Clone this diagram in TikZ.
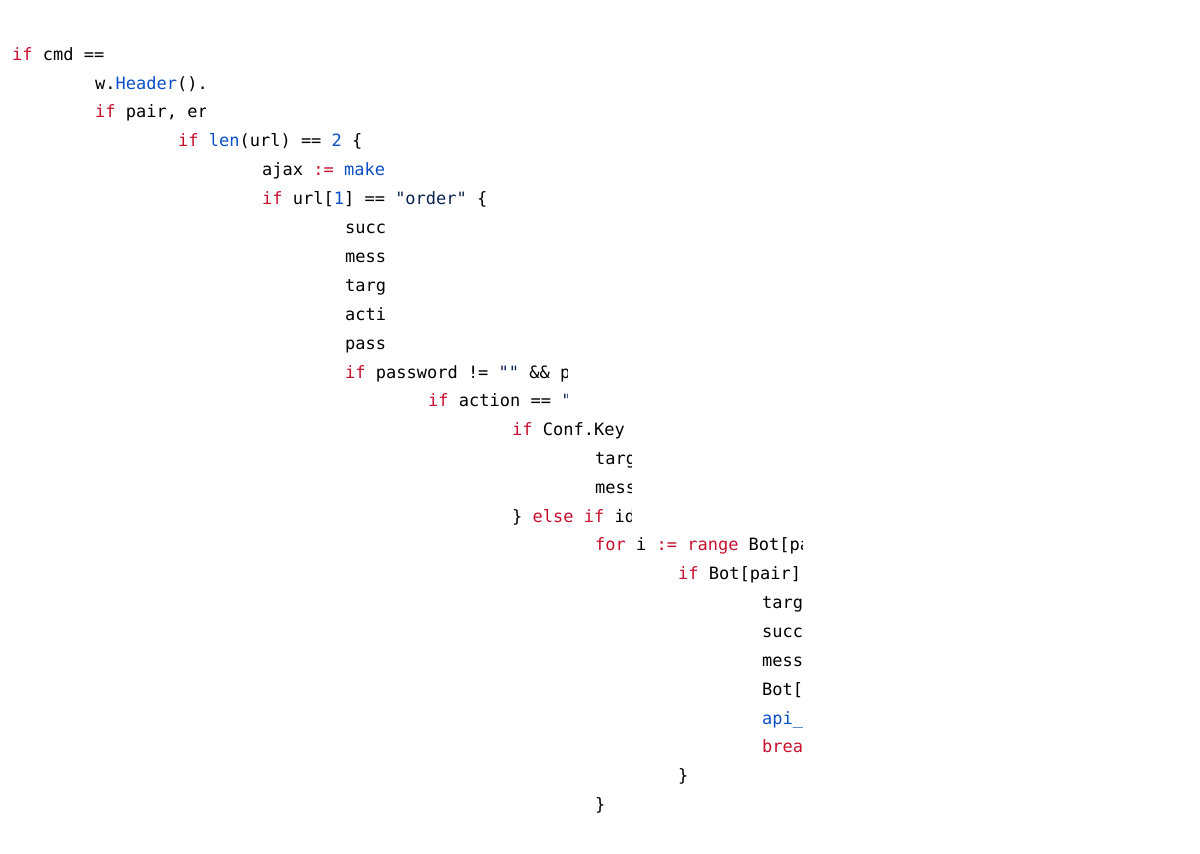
\documentclass[tikz,border=0pt]{standalone}
\usepackage{fontspec}
\setmonofont{DejaVu Sans Mono}
\definecolor{kw}{HTML}{C8102E}
\definecolor{fn}{HTML}{0B4FC8}
\definecolor{st}{HTML}{0C2350}
\newcommand{\K}[1]{\textcolor{kw}{#1}}
\newcommand{\F}[1]{\textcolor{fn}{#1}}
\newcommand{\Sq}[1]{\textcolor{st}{#1}}
\newcommand{\cl}[4]{\begin{scope}\clip (0,-#1-20) rectangle (#3,-#1+20);
\node[code] at (#2,-#1) {#4};\end{scope}}
\tikzset{code/.style={anchor=west,inner sep=0pt,font=\ttfamily\fontsize{17pt}{20pt}\selectfont,text height=12pt,text depth=4pt}}
\begin{document}
\begin{tikzpicture}[x=1pt,y=1pt]
\useasboundingbox[fill=white] (0,0) rectangle (1200,-854);
\cl{56}{12}{106}{\K{if} cmd ==}
\cl{85}{95}{205}{w.\F{Header}().Set}
\cl{113}{95}{205}{\K{if} pair, err}
\cl{142}{178}{600}{\K{if} \F{len}(url) == \F{2} \{}
\cl{171}{262}{385}{ajax \K{:=} \F{make}(}
\cl{200}{262}{700}{\K{if} url[\F{1}] == \Sq{"order"} \{}
\cl{229}{345}{385}{success}
\cl{258}{345}{385}{message}
\cl{287}{345}{385}{target}
\cl{316}{345}{385}{action}
\cl{345}{345}{385}{password}
\cl{374}{345}{567}{\K{if} password != \Sq{""} \&\& pass}
\cl{402}{428}{567}{\K{if} action == \Sq{"buy"}}
\cl{431}{512}{631}{\K{if} Conf.Key}
\cl{460}{595}{631}{target}
\cl{489}{595}{631}{message}
\cl{518}{512}{631}{\} \K{else} \K{if} id}
\cl{546}{595}{802}{\K{for} i \K{:=} \K{range} Bot[pair]}
\cl{575}{678}{802}{\K{if} Bot[pair]}
\cl{604}{762}{802}{target}
\cl{633}{762}{802}{success}
\cl{662}{762}{802}{message}
\cl{691}{762}{802}{Bot[pair]}
\cl{720}{762}{802}{\F{api\_call}}
\cl{748}{762}{802}{\K{break}}
\cl{777}{678}{802}{\}}
\cl{806}{595}{802}{\}}
\end{tikzpicture}
\end{document}
